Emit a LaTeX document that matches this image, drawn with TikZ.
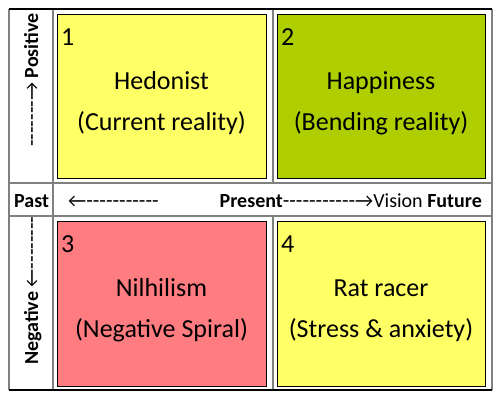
\documentclass[tikz,border=0pt]{standalone}
\usepackage{fontspec}
\setmainfont{Carlito}
\newfontfamily\calib{Carlito}
\newcommand\hyruns[1]{{\fontsize{21.5}{24}\selectfont #1}}
\definecolor{qyellow}{HTML}{FFFF66}
\definecolor{qgreen}{HTML}{AFCE00}
\definecolor{qred}{HTML}{FF7C80}
\definecolor{gridgray}{HTML}{808080}
\begin{document}
\begin{tikzpicture}[x=1pt,y=-1pt,
  quad/.style={draw=black,line width=1pt},
  big/.style={font=\fontsize{26}{30}\selectfont,inner sep=0pt},
  side/.style={font=\calib\fontsize{20}{22}\selectfont,inner sep=0pt},
  grid/.style={draw=gridgray,line width=1.6pt}]
\useasboundingbox (0,0) rectangle (500,400);
% table grid
\draw[grid] (9,9) -- (9,390);
\draw[grid] (492,9) -- (492,390);
\draw[grid] (53,9) -- (53,390);
\draw[grid] (273,9) -- (273,183);
\draw[grid] (273,216) -- (273,390);
\draw[grid] (9,183) -- (492,183);
\draw[grid] (9,216) -- (492,216);
\draw[black,line width=1.2pt] (9,9) -- (492,9);
\draw[black,line width=1.2pt] (9,390) -- (492,390);
% quadrants
\node[quad,fill=qyellow,minimum width=209pt,minimum height=164pt,anchor=north west,inner sep=0pt] (q1) at (57,14) {};
\node[quad,fill=qgreen,minimum width=208pt,minimum height=164pt,anchor=north west,inner sep=0pt] (q2) at (277,14) {};
\node[quad,fill=qred,minimum width=209pt,minimum height=165pt,anchor=north west,inner sep=0pt] (q3) at (57,221) {};
\node[quad,fill=qyellow,minimum width=208pt,minimum height=165pt,anchor=north west,inner sep=0pt] (q4) at (277,221) {};
% numbers
\node[big,anchor=base west] (n1) at (61,45) {1};
\node[big,anchor=base west] (n2) at (281,45) {2};
\node[big,anchor=base west] (n3) at (61,252) {3};
\node[big,anchor=base west] (n4) at (281,252) {4};
% titles
\node[big,anchor=base] (t1a) at (161.5,89) {Hedonist};
\node[big,anchor=base] (t1b) at (161.5,130) {(Current reality)};
\node[big,anchor=base] (t2a) at (381,89) {Happiness};
\node[big,anchor=base] (t2b) at (381,130) {(Bending reality)};
\node[big,anchor=base] (t3a) at (161.5,296) {Nilhilism};
\node[big,anchor=base] (t3b) at (161.5,337) {(Negative Spiral)};
\node[big,anchor=base] (t4a) at (381,296) {Rat racer};
\node[big,anchor=base] (t4b) at (381,337) {(Stress \& anxiety)};
% side labels
\node[side,anchor=base west,rotate=90] (pos) at (38,147) {\hyruns{-------}→ \textbf{Positive}};
\node[side,anchor=base west,rotate=90] (neg) at (38,365) {\textbf{Negative} ←\hyruns{--------}};
% middle row
\node[side,anchor=base west] (past) at (14,207) {\textbf{Past}};
\node[side,anchor=base west] (left) at (68,207) {←\hyruns{-----------}};
\node[side,anchor=base east] (fut) at (482,207) {\textbf{Present}\hyruns{-----------}→Vision \textbf{Future}};
\end{tikzpicture}
\end{document}
